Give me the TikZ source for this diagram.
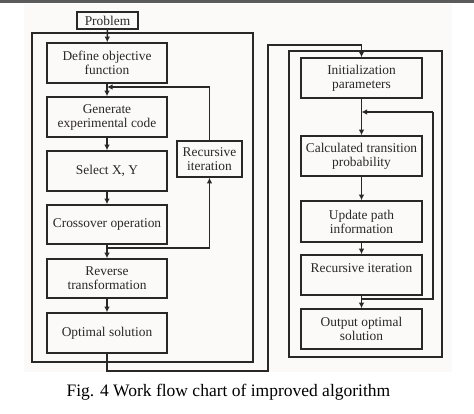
\documentclass[tikz,border=0pt]{standalone}
\usepackage{fontspec}
\setmainfont{Liberation Serif}
\usetikzlibrary{arrows.meta}
\definecolor{ink}{HTML}{2B2725}
\definecolor{bar}{HTML}{5B5B5B}
\definecolor{paper}{HTML}{FCFAF9}
\begin{document}
\begin{tikzpicture}[x=1pt,y=-1pt,
  box/.style={draw=ink,line width=1.6pt,minimum width=120pt,minimum height=40pt,inner sep=1pt,align=center,text=ink,font=\fontsize{13.4pt}{14pt}\selectfont},
  frame/.style={draw=ink,line width=1.6pt},
  link/.style={draw=ink,line width=1.4pt},
  arr/.style={link,-{Latex[length=5.5pt,width=5.5pt]}}]
\useasboundingbox (0,0) rectangle (474,414);
\fill[white] (0,0) rectangle (474,414);
\fill[paper] (24,4) rectangle (452,372);
\fill[bar] (0,0) rectangle (474,3);
% left part
\draw[frame] (32,33) rectangle (253,362);
\node[box,minimum width=61pt,minimum height=17pt] (prob) at (107.5,20.5) {Problem};
\node[box] (def) at (107,63) {Define objective\\function};
\node[box] (gen) at (107,117) {Generate\\experimental code};
\node[box] (sel) at (107,171) {Select X, Y};
\node[box,minimum height=39pt] (cro) at (107,224.5) {Crossover operation};
\node[box,minimum height=39pt] (rev) at (107,278.5) {Reverse\\transformation};
\node[box] (opt) at (107,333) {Optimal solution};
\node[box,minimum width=65pt,minimum height=36pt] (rec1) at (209.5,159) {Recursive\\iteration};
\draw[arr] (prob) -- (def);
\draw[arr] (def) -- (gen);
\draw[arr] (gen) -- (sel);
\draw[arr] (sel) -- (cro);
\draw[arr] (cro) -- (rev);
\draw[arr] (rev) -- (opt);
\coordinate (j1) at (107,248);
\coordinate (j2) at (107,87);
\draw[arr] (j1) -| (rec1.south);
\draw[arr] (rec1.north) |- (j2);
% right part
\draw[frame] (289,51) rectangle (442,357);
\node[box,minimum width=121pt] (init) at (361.5,78) {Initialization\\parameters};
\node[box,minimum width=121pt] (calc) at (361.5,156) {Calculated transition\\probability};
\node[box,minimum width=121pt,minimum height=41pt] (upd) at (361.5,221.5) {Update path\\information};
\node[box,minimum width=121pt] (rec2) at (361.5,275) {Recursive iteration\\\mbox{}};
\node[box,minimum width=121pt] (out) at (361.5,329) {Output optimal\\solution};
\draw[arr] (init) -- (calc);
\draw[arr] (calc) -- (upd);
\draw[arr] (upd) -- (rec2);
\draw[arr] (rec2) -- (out);
\coordinate (k1) at (361.5,299);
\coordinate (k2) at (361.5,112);
\draw[link] (k1) -- (433,299) -- (433,112);
\draw[arr] (433,112) -- (k2);
% connection
\draw[arr] (opt.south) -- (107,371) -- (268,371) -- (268,45) -- (361.5,45) -- (init.north);
% caption
\node[text=black,font=\fontsize{17.5pt}{20pt}\selectfont,anchor=base west] (cap) at (63,396) {Fig. 4 Work flow chart of improved algorithm};
\end{tikzpicture}
\end{document}
